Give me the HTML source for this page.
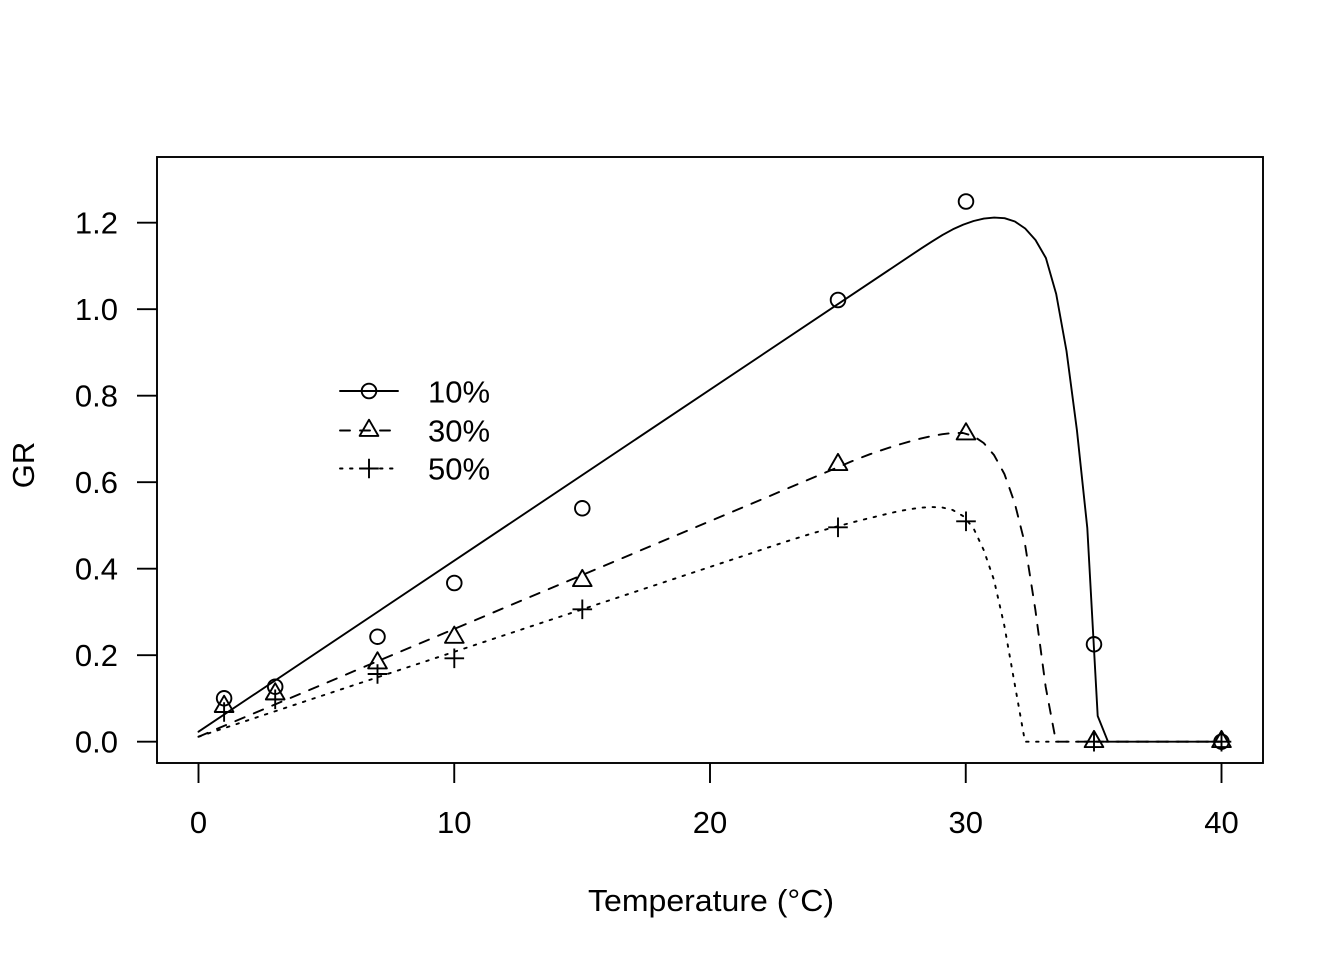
<!DOCTYPE html>
<html>
<head>
<meta charset="utf-8">
<style>
  html, body { margin: 0; padding: 0; background: #ffffff; }
  svg { display: block; }
  text { font-family: "Liberation Sans", Arial, sans-serif; fill: #000; }
</style>
</head>
<body>
<svg width="1344" height="960" viewBox="0 0 1344 960" xmlns="http://www.w3.org/2000/svg">
  <rect x="0" y="0" width="1344" height="960" fill="#ffffff"/>

  <!-- plot box -->
  <rect x="157" y="157" width="1106" height="606" fill="none" stroke="#000" stroke-width="1.9"/>

  <!-- x axis ticks -->
  <g stroke="#000" stroke-width="1.9" fill="none">
    <line x1="198.5" y1="763" x2="198.5" y2="783"/>
    <line x1="454.25" y1="763" x2="454.25" y2="783"/>
    <line x1="710" y1="763" x2="710" y2="783"/>
    <line x1="965.75" y1="763" x2="965.75" y2="783"/>
    <line x1="1221.5" y1="763" x2="1221.5" y2="783"/>
  </g>
  <g font-size="31" text-anchor="middle">
    <text x="198.5" y="833">0</text>
    <text x="454.25" y="833">10</text>
    <text x="710" y="833">20</text>
    <text x="965.75" y="833">30</text>
    <text x="1221.5" y="833">40</text>
  </g>

  <!-- y axis ticks -->
  <g stroke="#000" stroke-width="1.9" fill="none">
    <line x1="137" y1="741.7" x2="157" y2="741.7"/>
    <line x1="137" y1="655.2" x2="157" y2="655.2"/>
    <line x1="137" y1="568.7" x2="157" y2="568.7"/>
    <line x1="137" y1="482.2" x2="157" y2="482.2"/>
    <line x1="137" y1="395.7" x2="157" y2="395.7"/>
    <line x1="137" y1="309.2" x2="157" y2="309.2"/>
    <line x1="137" y1="222.7" x2="157" y2="222.7"/>
  </g>
  <g font-size="31" text-anchor="end">
    <text x="118" y="752.7">0.0</text>
    <text x="118" y="666.2">0.2</text>
    <text x="118" y="579.7">0.4</text>
    <text x="118" y="493.2">0.6</text>
    <text x="118" y="406.7">0.8</text>
    <text x="118" y="320.2">1.0</text>
    <text x="118" y="233.7">1.2</text>
  </g>

  <!-- axis titles -->
  <text x="711" y="911" font-size="31" text-anchor="middle" textLength="246" lengthAdjust="spacingAndGlyphs">Temperature (°C)</text>
  <text transform="translate(34,465) rotate(-90)" font-size="31" text-anchor="middle">GR</text>

  <!-- curves -->
  <g fill="none" stroke="#000" stroke-width="1.9" stroke-linejoin="round" stroke-linecap="round">
    <path d="M198.5,731.7 L922,247.9 L932.3,241.3 L942.6,234.9 L952.9,229.3 L963.3,224.6 L973.6,221 L983.9,218.6 L994.2,217.6 L1004.6,218.2 L1014.9,221.5 L1025.2,228.5 L1035.5,240 L1045.9,258 L1056.2,294 L1066.5,351 L1076.9,430 L1087.3,528 L1097.7,716 L1108,741.7 L1221.5,741.7"/>
    <path stroke-dasharray="10 10" d="M198.5,736.7 L839,466.8 L849.4,462.3 L859.7,458.1 L870,454.2 L880.4,450.6 L890.7,447.2 L901,444 L911.4,441 L921.7,438.3 L932,436 L942.4,434.2 L952.7,433 L963,433 L973.4,436 L983.7,443 L994,455 L1004.4,474 L1014.7,503 L1025,544 L1035.4,610 L1045.7,687 L1056,741.7 L1221.5,741.7"/>
    <path stroke-dasharray="2.5 7.5" d="M198.5,736.7 L746,555 L756.3,551.5 L766.6,548 L777,544.6 L787.3,541.2 L797.7,537.9 L808,534.7 L818.4,531.6 L828.7,528.7 L839,526 L849.4,523.2 L859.7,520.5 L870,518 L880.4,515.5 L890.7,513 L901,510.8 L911.4,509 L921.7,507.6 L932,507 L942.4,507.5 L952.7,510 L963,516 L973.4,528 L983.7,550 L994,580 L1004.4,626 L1014.7,684 L1025,741.7 L1221.5,741.7"/>
  </g>

  <!-- points: circles (10%) -->
  <g fill="none" stroke="#000" stroke-width="1.9">
    <circle cx="224.1" cy="698.3" r="7.3"/>
    <circle cx="275.2" cy="686.7" r="7.3"/>
    <circle cx="377.5" cy="636.7" r="7.3"/>
    <circle cx="454.3" cy="583" r="7.3"/>
    <circle cx="582.3" cy="508.3" r="7.3"/>
    <circle cx="838" cy="300" r="7.3"/>
    <circle cx="966" cy="201.5" r="7.3"/>
    <circle cx="1094" cy="644.3" r="7.3"/>
    <circle cx="1221.5" cy="741.7" r="7.3"/>
  </g>

  <!-- points: triangles (30%) -->
  <g fill="none" stroke="#000" stroke-width="1.9" stroke-linejoin="round">
    <polygon points="224.1,695.7 233.45,711.9 214.75,711.9"/>
    <polygon points="275.2,683.2 284.55,699.4 265.85,699.4"/>
    <polygon points="377.5,652.2 386.85,668.4 368.15,668.4"/>
    <polygon points="454.3,626.6 463.65,642.8 444.95,642.8"/>
    <polygon points="582.3,569.9 591.65,586.1 572.95,586.1"/>
    <polygon points="838,453.9 847.35,470.1 828.65,470.1"/>
    <polygon points="966,423.2 975.35,439.4 956.65,439.4"/>
    <polygon points="1094,730.9 1103.35,747.1 1084.65,747.1"/>
    <polygon points="1221.5,730.9 1230.85,747.1 1212.15,747.1"/>
  </g>

  <!-- points: plus (50%) -->
  <g fill="none" stroke="#000" stroke-width="1.9">
    <path d="M214.3,712 H233.9 M224.1,702.2 V721.8"/>
    <path d="M265.4,699.3 H285 M275.2,689.5 V709.1"/>
    <path d="M367.7,674 H387.3 M377.5,664.2 V683.8"/>
    <path d="M444.5,658.3 H464.1 M454.3,648.5 V668.1"/>
    <path d="M572.5,609.3 H592.1 M582.3,599.5 V619.1"/>
    <path d="M828.2,527.3 H847.8 M838,517.5 V537.1"/>
    <path d="M956.2,521.3 H975.8 M966,511.5 V531.1"/>
    <path d="M1084.2,741.7 H1103.8 M1094,731.9 V751.5"/>
    <path d="M1211.7,741.7 H1231.3 M1221.5,731.9 V751.5"/>
  </g>

  <!-- legend -->
  <g fill="none" stroke="#000" stroke-width="1.9" stroke-linecap="round">
    <line x1="340" y1="391" x2="398" y2="391"/>
    <line x1="340" y1="430.5" x2="398" y2="430.5" stroke-dasharray="10 10"/>
    <line x1="340" y1="468.5" x2="398" y2="468.5" stroke-dasharray="2.5 7.5"/>
    <circle cx="369" cy="391" r="7.3"/>
    <polygon points="369,419.7 378.35,435.9 359.65,435.9" stroke-linejoin="round"/>
    <path d="M359.2,468.5 H378.8 M369,458.7 V478.3" stroke-linecap="butt"/>
  </g>
  <g font-size="31">
    <text x="428" y="402.5">10%</text>
    <text x="428" y="441.5">30%</text>
    <text x="428" y="479.5">50%</text>
  </g>
</svg>
</body>
</html>
